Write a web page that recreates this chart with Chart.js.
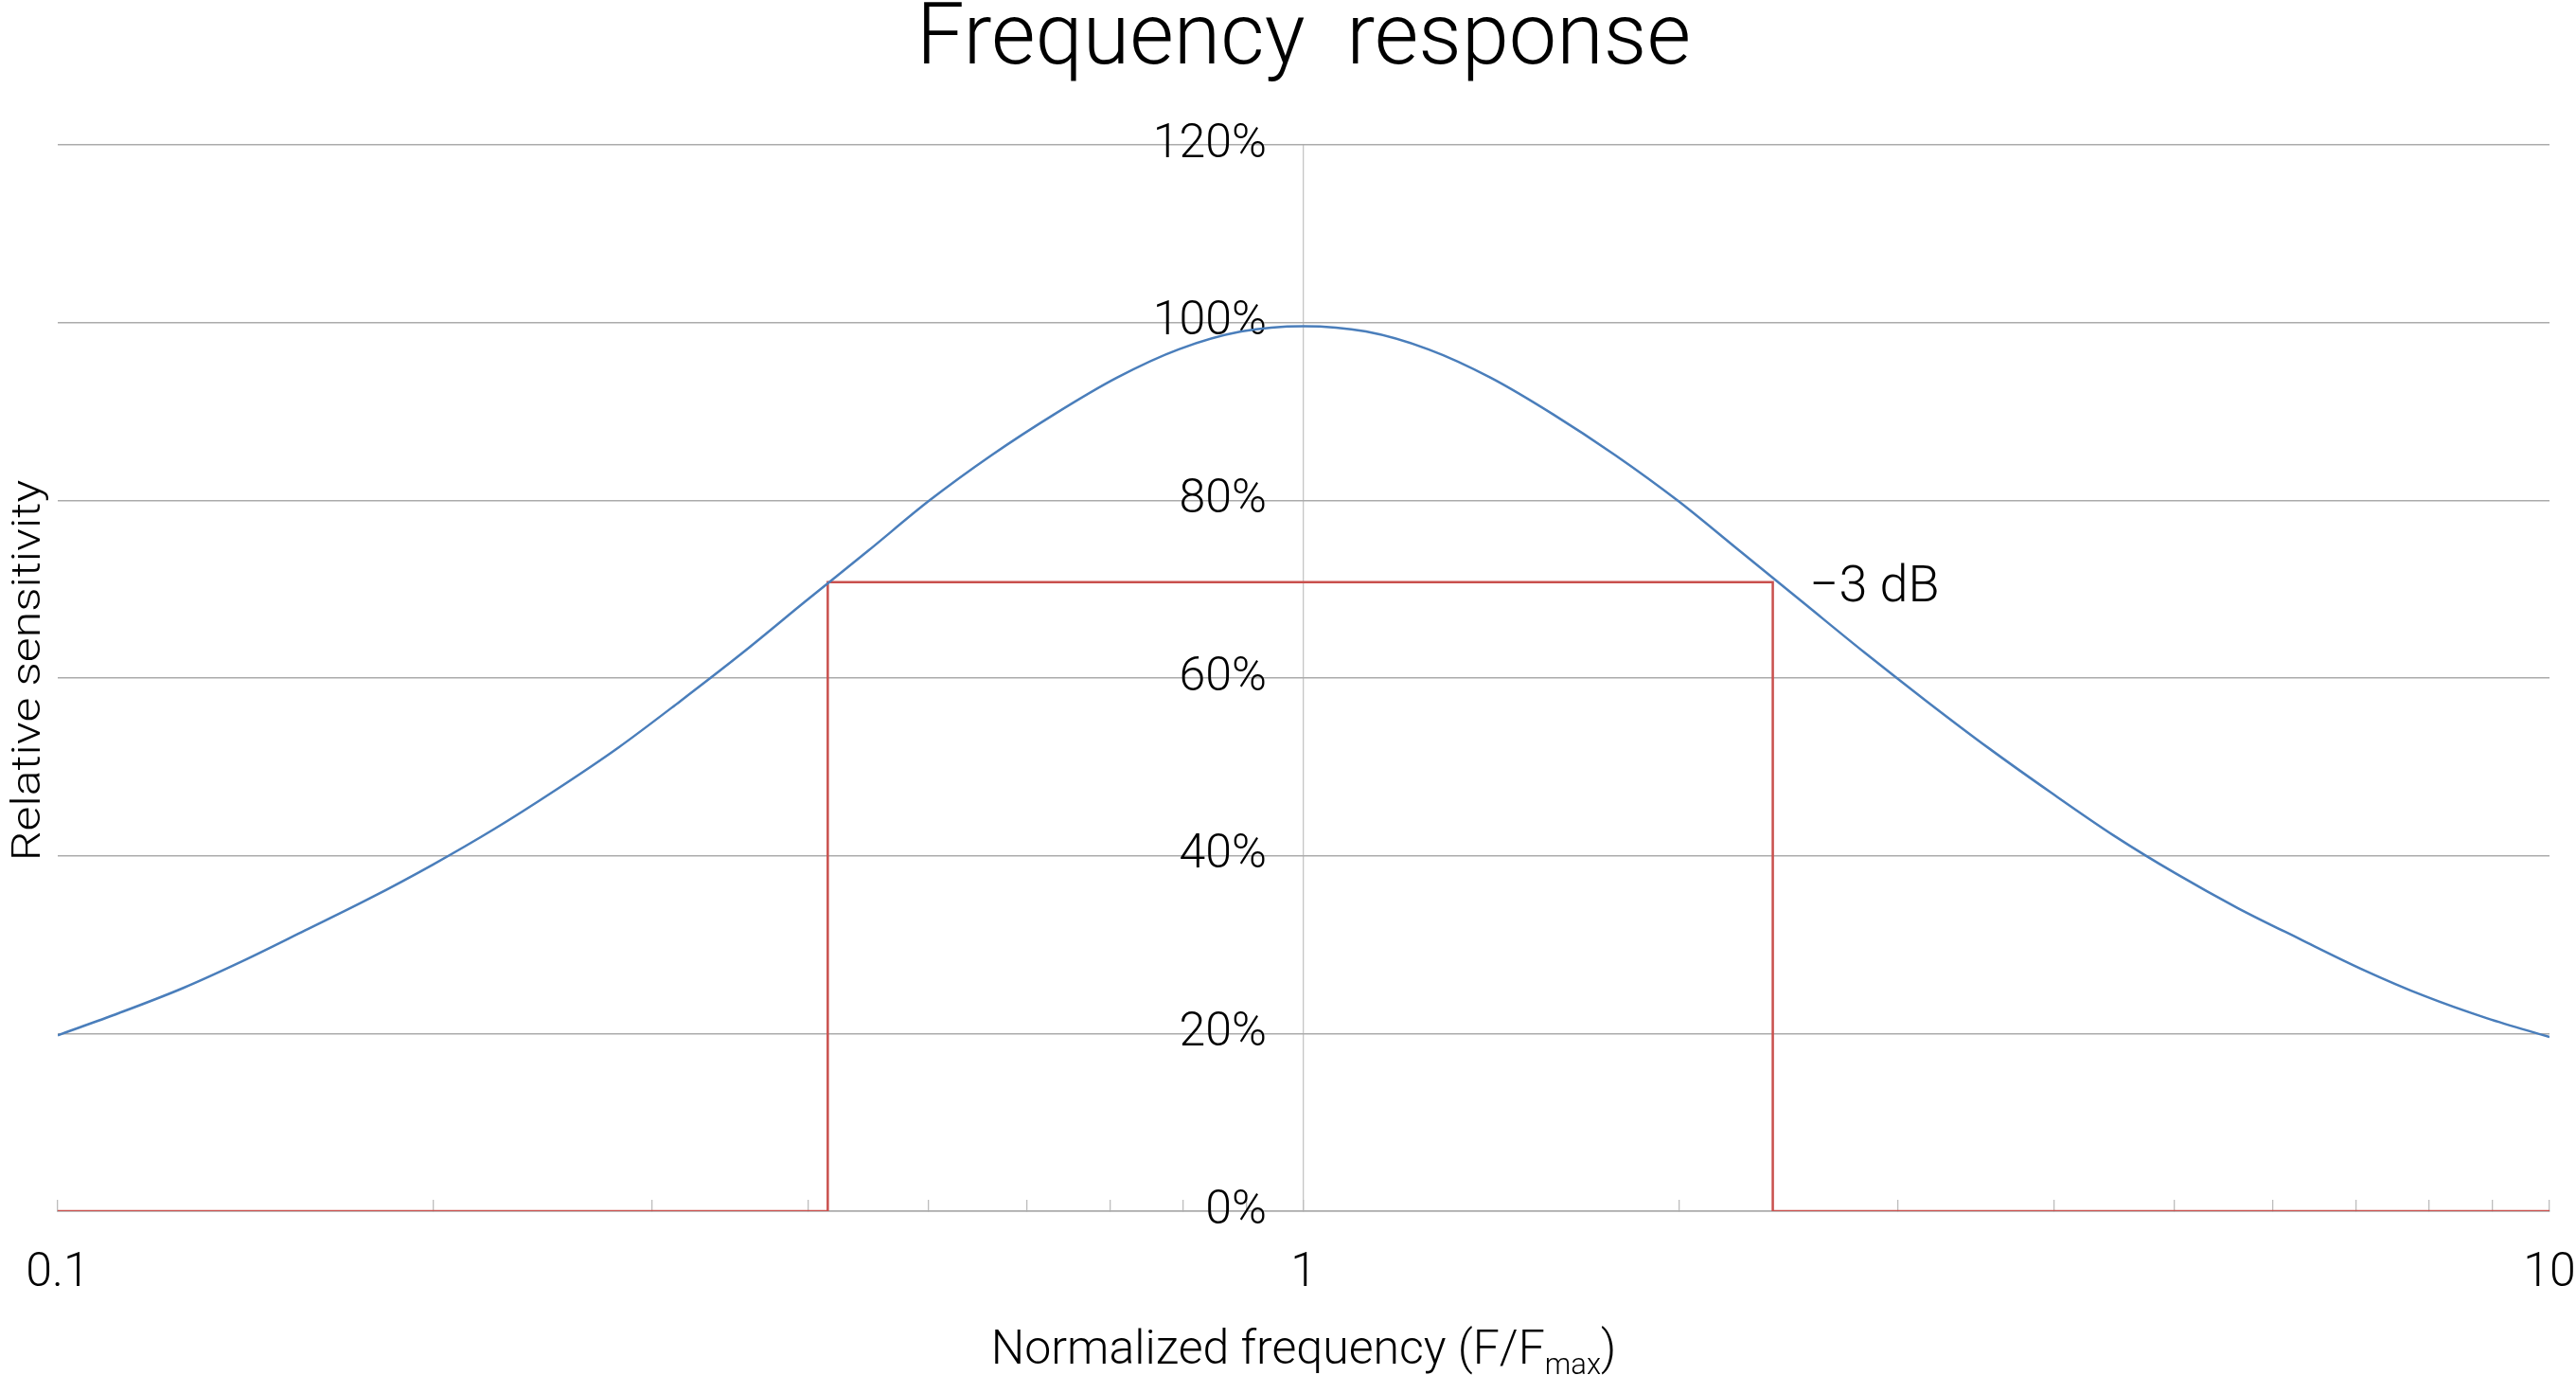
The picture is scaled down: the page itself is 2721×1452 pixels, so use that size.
<!DOCTYPE html>
<html>
<head>
<meta charset="utf-8">
<title>Frequency response</title>
<script src="https://cdn.jsdelivr.net/npm/chart.js@4.4.1/dist/chart.umd.min.js"></script>
<style>
  html, body { margin: 0; padding: 0; background: #fff; }
  #wrap { width: 2721px; height: 1452px; }
</style>
</head>
<body>
<div id="wrap"><canvas id="response"></canvas></div>
<script>
// normalized frequency (F/Fmax), twentieth-decade steps, and relative sensitivity in %
const freq = [0.1, 0.112, 0.126, 0.141, 0.158, 0.178, 0.2, 0.224, 0.251, 0.282, 0.316, 0.355, 0.398, 0.447, 0.501,
              0.562, 0.631, 0.708, 0.794, 0.891, 1, 1.122, 1.259, 1.413, 1.585, 1.778, 1.995, 2.239, 2.512, 2.818,
              3.162, 3.548, 3.981, 4.467, 5.012, 5.623, 6.31, 7.079, 7.943, 8.913, 10];
const sensitivity = [19.8, 22.3, 25.1, 28.2, 31.6, 35.2, 39.0, 43.0, 47.4, 52.2, 57.4, 62.9, 68.6, 74.3, 80.0,
                     85.1, 89.7, 93.8, 97.0, 99.0, 99.6, 99.0, 97.0, 93.8, 89.7, 85.1, 80.0, 74.3, 68.6, 62.9,
                     57.4, 52.1, 47.1, 42.3, 38.0, 34.1, 30.6, 27.2, 24.2, 21.7, 19.6];

// -3 dB band (red step)
const bandFreq = [0.1, 0.415, 0.415, 2.38, 2.38, 10];
const bandLevel = [0, 0, 70.8, 70.8, 0, 0];

const xTickValues = [0.1, 0.2, 0.3, 0.4, 0.5, 0.6, 0.7, 0.8, 0.9, 1, 2, 3, 4, 5, 6, 7, 8, 9, 10];
const xTickLabels = [0.1, 1, 10];
const yTickValues = [0, 20, 40, 60, 80, 100, 120];

// the percent labels sit just left of the F = 1 line
const yLabelsAt = 0.934;

const FONT = 'Roboto';

const toPoints = (xs, ys) => xs.map((x, i) => ({ x: x, y: ys[i] }));

// axis titles and the -3 dB note
const labelsPlugin = {
    id: 'labels',
    afterDraw(chart) {
        const { ctx, chartArea, scales } = chart;
        ctx.save();
        ctx.fillStyle = '#000';

        // x title with subscript
        const mainA = 'Normalized frequency (F/F';
        const sub = 'max';
        const mainB = ')';
        ctx.font = `300 50px ${FONT}`;
        const wA = ctx.measureText(mainA).width;
        const wB = ctx.measureText(mainB).width;
        ctx.font = `300 31px ${FONT}`;
        const wS = ctx.measureText(sub).width;
        const cx = scales.x.getPixelForValue(1);
        const x0 = cx - (wA + wS + wB) / 2;
        ctx.textBaseline = 'alphabetic';
        ctx.textAlign = 'left';
        ctx.font = `300 50px ${FONT}`;
        ctx.fillText(mainA, x0, 1440);
        ctx.font = `300 31px ${FONT}`;
        ctx.fillText(sub, x0 + wA, 1451);
        ctx.font = `300 50px ${FONT}`;
        ctx.fillText(mainB, x0 + wA + wS, 1440);

        // y title (drawn a little wide, like the original)
        ctx.save();
        ctx.translate(42, (chartArea.top + chartArea.bottom) / 2 - 8);
        ctx.rotate(-Math.PI / 2);
        ctx.scale(1.19, 1);
        ctx.textAlign = 'center';
        ctx.font = `300 42px ${FONT}`;
        ctx.fillText('Relative sensitivity', 0, 0);
        ctx.restore();

        // -3 dB note at the upper band edge
        ctx.font = `300 54px ${FONT}`;
        ctx.textAlign = 'left';
        ctx.textBaseline = 'middle';
        ctx.fillText('\u22123 dB', scales.x.getPixelForValue(bandFreq[3]) + 39, scales.y.getPixelForValue(bandLevel[3]) + 7);
        ctx.restore();
    }
};

new Chart(document.getElementById('response'), {
    type: 'line',
    data: {
        datasets: [
            {
                data: toPoints(freq, sensitivity),
                borderColor: '#4a7ebb',
                borderWidth: 2.5,
                pointRadius: 0,
                cubicInterpolationMode: 'monotone',
                fill: false
            },
            {
                data: toPoints(bandFreq, bandLevel),
                borderColor: '#c9504d',
                borderWidth: 2.5,
                pointRadius: 0,
                tension: 0,
                fill: false
            }
        ]
    },
    options: {
        responsive: true,
        maintainAspectRatio: false,
        devicePixelRatio: 1,
        animation: false,
        layout: { padding: { left: 61, right: 28, top: 0, bottom: 0 } },
        plugins: {
            legend: { display: false },
            tooltip: { enabled: false },
            title: {
                display: true,
                text: 'Frequency  response',
                color: '#000',
                font: { family: FONT, size: 90, weight: 300, lineHeight: 0.8 },
                padding: { top: 8, bottom: 73 }
            }
        },
        scales: {
            x: {
                type: 'logarithmic',
                min: 0.1,
                max: 10,
                afterBuildTicks: (s) => { s.ticks = xTickValues.map(v => ({ value: v })); },
                afterFit: (s) => {
                    s.height = 173;
                    // labels may hang over the plot edges, as in the original
                    s.paddingLeft = 0;
                    s.paddingRight = 0;
                },
                ticks: {
                    autoSkip: false,
                    maxRotation: 0,
                    padding: 48,
                    color: '#000',
                    font: { family: FONT, size: 50, weight: 300 },
                    callback: (v) => xTickLabels.includes(v) ? String(v) : ''
                },
                grid: {
                    drawOnChartArea: true,
                    drawTicks: true,
                    tickLength: -12,
                    tickColor: '#bdbdbd',
                    color: (c) => (c.tick && c.tick.value === 1) ? '#c6c6c6' : 'rgba(0,0,0,0)',
                    lineWidth: 1.3
                },
                border: { display: true, color: '#ababab', width: 1.4 }
            },
            y: {
                type: 'linear',
                position: { x: yLabelsAt },
                min: 0,
                max: 120,
                afterBuildTicks: (s) => { s.ticks = yTickValues.map(v => ({ value: v })); },
                ticks: {
                    color: '#000',
                    padding: 0,
                    font: { family: FONT, size: 50, weight: 300 },
                    callback: (v) => v + '%'
                },
                grid: { color: '#ababab', lineWidth: 1.4, drawTicks: false },
                border: { display: false }
            }
        }
    },
    plugins: [labelsPlugin]
});
</script>
</body>
</html>
